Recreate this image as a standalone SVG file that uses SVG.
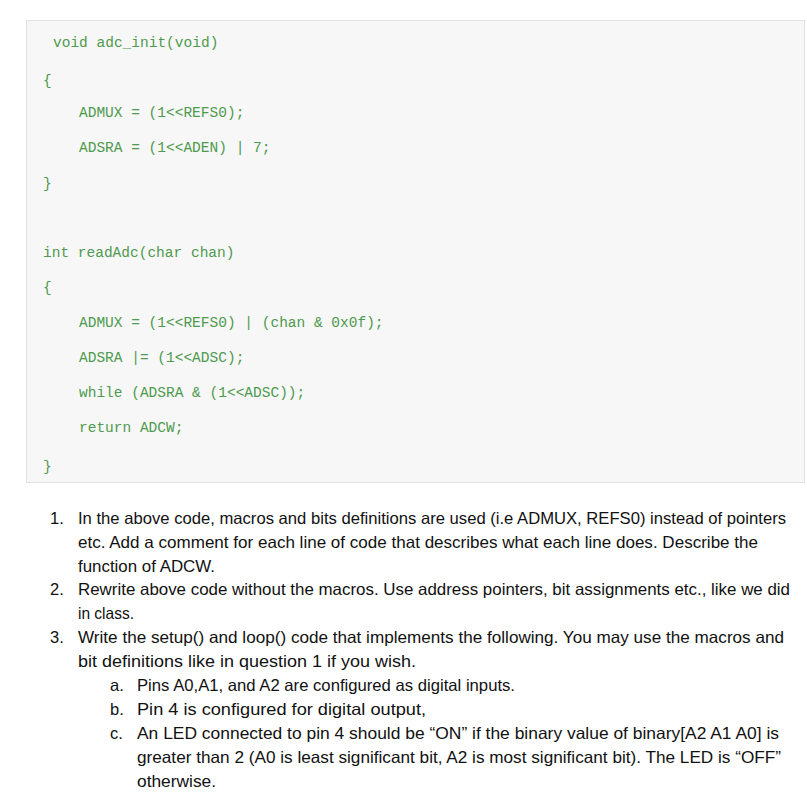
<svg xmlns="http://www.w3.org/2000/svg" width="807" height="804" viewBox="0 0 807 804">
<style>
.c{font-family:"Liberation Mono",monospace;font-size:14.5px;fill:#4e9a4e}
.t{font-family:"Liberation Sans",sans-serif;font-size:16.5px;fill:#111}
</style>
<rect width="807" height="804" fill="#fff"/>
<g id="code">
<rect x="26.5" y="20.5" width="778" height="462" fill="#f7f7f7" stroke="#e2e2e2"/>
<text class="c" x="53" y="47">void adc_init(void)</text>
<text class="c" x="43" y="85">{</text>
<text class="c" x="79" y="117">ADMUX = (1&lt;&lt;REFS0);</text>
<text class="c" x="79" y="152">ADSRA = (1&lt;&lt;ADEN) | 7;</text>
<text class="c" x="43" y="188">}</text>
<text class="c" x="43" y="257">int readAdc(char chan)</text>
<text class="c" x="43" y="292">{</text>
<text class="c" x="79" y="327">ADMUX = (1&lt;&lt;REFS0) | (chan &amp; 0x0f);</text>
<text class="c" x="79" y="362">ADSRA |= (1&lt;&lt;ADSC);</text>
<text class="c" x="79" y="397">while (ADSRA &amp; (1&lt;&lt;ADSC));</text>
<text class="c" x="79" y="432">return ADCW;</text>
<text class="c" x="43" y="471">}</text>
</g>
<g id="questions">
<text class="t" x="50" y="524">1.</text>
<text class="t" x="78" y="524" textLength="708" lengthAdjust="spacingAndGlyphs">In the above code, macros and bits definitions are used (i.e ADMUX, REFS0) instead of pointers</text>
<text class="t" x="78" y="548" textLength="680" lengthAdjust="spacingAndGlyphs">etc.  Add a comment for each line of code that describes what each line does.  Describe the</text>
<text class="t" x="78" y="572" textLength="137" lengthAdjust="spacingAndGlyphs">function of ADCW.</text>
<text class="t" x="50" y="595">2.</text>
<text class="t" x="78" y="595" textLength="712" lengthAdjust="spacingAndGlyphs">Rewrite above code without the macros.  Use address pointers, bit assignments etc., like we did</text>
<text class="t" x="78" y="619" textLength="56" lengthAdjust="spacingAndGlyphs">in class.</text>
<text class="t" x="50" y="643">3.</text>
<text class="t" x="78" y="643" textLength="706" lengthAdjust="spacingAndGlyphs">Write the setup() and loop() code that implements the following.  You may use the macros and</text>
<text class="t" x="78" y="667" textLength="338" lengthAdjust="spacingAndGlyphs">bit definitions like in question 1 if you wish.</text>
<text class="t" x="110" y="691">a.</text>
<text class="t" x="137" y="691" textLength="378" lengthAdjust="spacingAndGlyphs">Pins A0,A1, and A2 are configured as digital inputs.</text>
<text class="t" x="110" y="715">b.</text>
<text class="t" x="137" y="715" textLength="289" lengthAdjust="spacingAndGlyphs">Pin 4 is configured for digital output,</text>
<text class="t" x="110" y="739">c.</text>
<text class="t" x="137" y="739" textLength="642" lengthAdjust="spacingAndGlyphs">An LED connected to pin 4 should be “ON” if the binary value of binary[A2 A1 A0] is</text>
<text class="t" x="137" y="763" textLength="644" lengthAdjust="spacingAndGlyphs">greater than 2 (A0 is least significant bit, A2 is most significant bit).  The LED is “OFF”</text>
<text class="t" x="137" y="787" textLength="79" lengthAdjust="spacingAndGlyphs">otherwise.</text>
</g>
</svg>
